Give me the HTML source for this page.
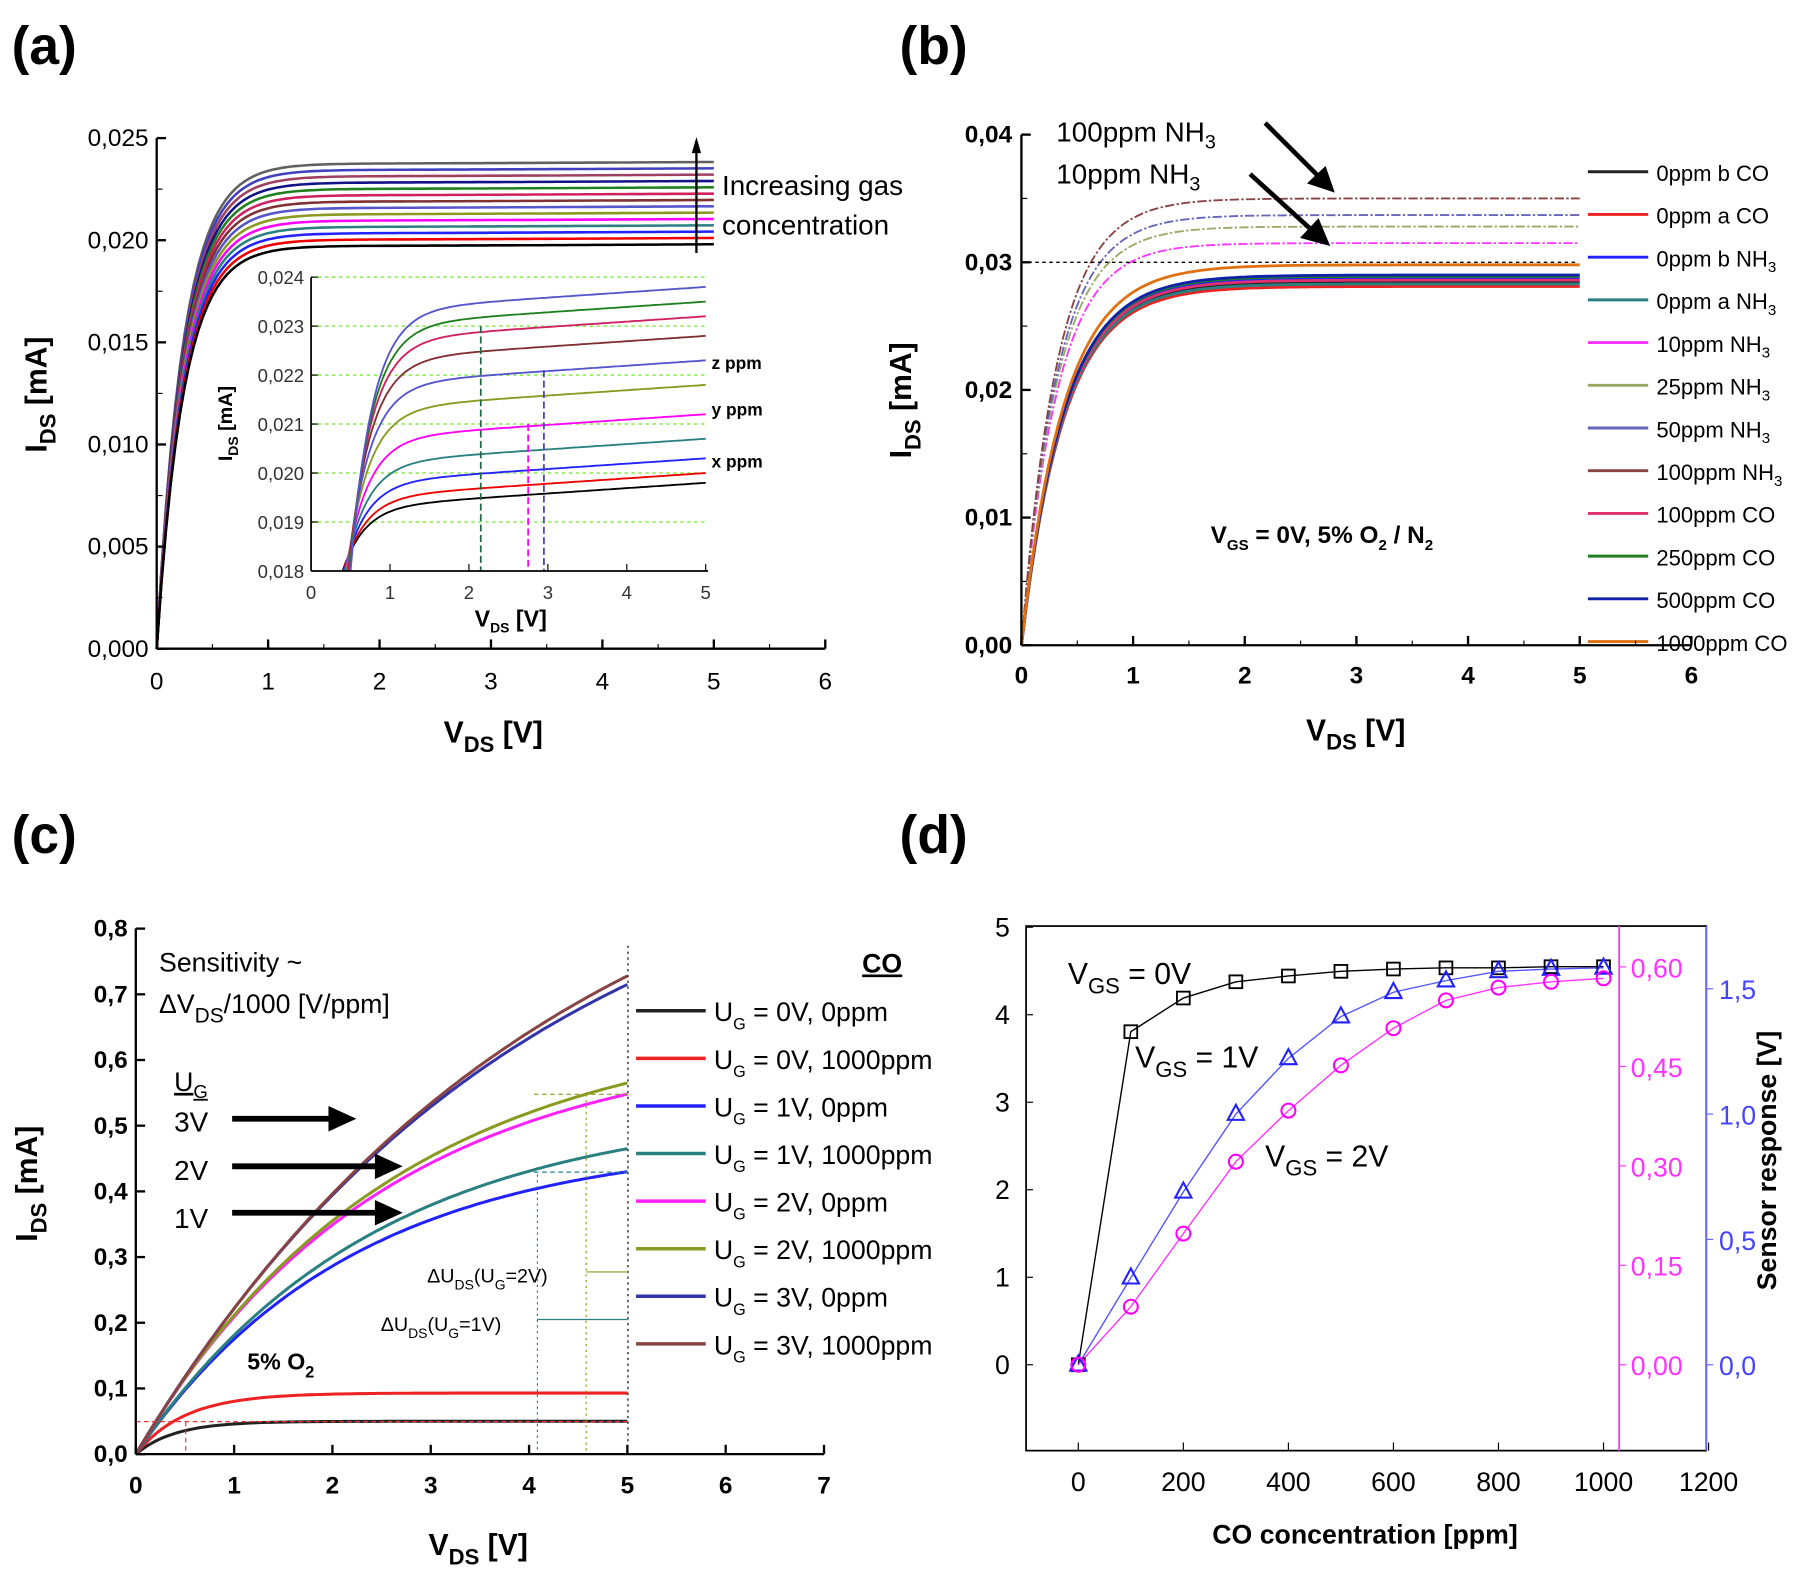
<!DOCTYPE html>
<html><head><meta charset="utf-8"><style>
html,body{margin:0;padding:0;background:#fff}
svg{display:block}
text{font-family:"Liberation Sans",Arial,sans-serif}
</style></head><body>
<svg id="s" width="1820" height="1569" viewBox="0 0 1568 1352" preserveAspectRatio="none" xmlns="http://www.w3.org/2000/svg">
<rect width="1568" height="1352" fill="#fff"/>
<g font-weight="bold" font-size="46">
<text x="10" y="55">(a)</text><text x="775" y="55">(b)</text>
<text x="10" y="735">(c)</text><text x="775" y="735">(d)</text>
</g>
<g id="a"></g><g id="b"></g><g id="c"></g><g id="d"></g>
</svg>
<script>
const NS="http://www.w3.org/2000/svg";
function el(p,tag,attrs,txt){const e=document.createElementNS(NS,tag);for(const k in attrs)e.setAttribute(k,attrs[k]);if(txt!==undefined)e.innerHTML=txt;document.getElementById(p).appendChild(e);return e;}
function path(p,f,v0,v1,mx,my,attrs){let d="";const n=120;for(let i=0;i<=n;i++){const v=v0+(v1-v0)*i/n;const x=mx(v),y=my(f(v));d+=(i?"L":"M")+x.toFixed(1)+","+y.toFixed(1);}attrs.d=d;attrs.fill="none";return el(p,"path",attrs);}
function line(p,x1,y1,x2,y2,a){a=a||{};a.x1=x1;a.y1=y1;a.x2=x2;a.y2=y2;if(!a.stroke)a.stroke="#000";return el(p,"line",a);}
function txt(p,x,y,s,a){a=a||{};a.x=x;a.y=y;return el(p,"text",a,s);}
// ===== (a)
{const X=v=>135+96*v,Y=i=>559-17600*i;
const cols=["#000","#e00","#22f","#2a8080","#f0f","#8a9a20","#55c","#803030","#d02060","#208020","#118","#a04060","#4040c0","#606060"];
for(let k=13;k>=0;k--){const Is=0.0198+k*0.00031;path("a",v=>Is*(1-Math.exp(-v/0.24))+0.00003*v-0.00015+0.00015*Math.exp(-v),0,5,X,Y,{stroke:cols[k],"stroke-width":2.2});}
line("a",135,119,135,559,{"stroke-width":2});line("a",135,559,711,559,{"stroke-width":2});
for(let i=0;i<=6;i++){line("a",X(i),559,X(i),551,{"stroke-width":2});txt("a",X(i),594,i,{"font-size":21,"text-anchor":"middle"});if(i<6)line("a",X(i+.5),559,X(i+.5),555);}
["0,000","0,005","0,010","0,015","0,020","0,025"].forEach((s,i)=>{const y=559-88*i;line("a",135,y,143,y,{"stroke-width":2});txt("a",128,y+7,s,{"font-size":21,"text-anchor":"end"});if(i<5)line("a",135,y-44,140,y-44);});
txt("a",425,640,"V<tspan font-size='19' dy='8'>DS</tspan><tspan dy='-8'> [V]</tspan>",{"font-size":26,"font-weight":"bold","text-anchor":"middle"});
txt("a",40,340,"I<tspan font-size='19' dy='8'>DS</tspan><tspan dy='-8'> [mA]</tspan>",{"font-size":26,"font-weight":"bold","text-anchor":"middle",transform:"rotate(-90 40 340)"});
line("a",600,218,600,122,{"stroke-width":2});el("a","path",{d:"M596,132 L600,118 L604,132Z"});
txt("a",622,168,"Increasing gas",{"font-size":24});txt("a",622,202,"concentration",{"font-size":24});
el("a","rect",{x:245,y:228,width:370,height:268,fill:"#fff"});
const x2=v=>268+68*v,y2=i=>492-42200*(i-0.018);
for(let k=1;k<=6;k++){const y=y2(0.018+k*0.001);line("a",268,y,610,y,{stroke:"#9e6","stroke-dasharray":"3,3","stroke-width":1.5});}
const ends=[0.0198,0.0200,0.0203,0.0207,0.0212,0.0218,0.0223,0.0228,0.0232,0.0235,0.0238];
const ic=["#000","#e00","#22f","#2a8080","#f0f","#8a9a20","#55c","#803030","#d02060","#208020","#55c"];
ends.forEach((e,k)=>{const D=e-0.0005-0.018;path("a",v=>Math.max(0.018,e-0.0005*(5-v)/4.6-D*Math.exp(-(v-0.4-k*0.01)/0.28)),0.4+k*0.01,5,x2,y2,{stroke:ic[k],"stroke-width":1.6});});
line("a",x2(2.15),y2(0.0230),x2(2.15),492,{stroke:"#264","stroke-dasharray":"6,3","stroke-width":1.5});
line("a",x2(2.75),y2(0.0210),x2(2.75),492,{stroke:"#f0f","stroke-dasharray":"6,3","stroke-width":1.5});
line("a",x2(2.95),y2(0.0221),x2(2.95),492,{stroke:"#44a","stroke-dasharray":"6,3","stroke-width":1.5});
line("a",268,239,268,492,{"stroke-width":1.5});line("a",268,492,610,492,{"stroke-width":1.5});
for(let i=0;i<=5;i++){line("a",x2(i),492,x2(i),486);txt("a",x2(i),516,i,{"font-size":16,"text-anchor":"middle",fill:"#333"});}
["0,018","0,019","0,020","0,021","0,022","0,023","0,024"].forEach((s,i)=>{const y=y2(0.018+i*0.001);line("a",268,y,274,y);txt("a",262,y+6,s,{"font-size":16,"text-anchor":"end",fill:"#333"});});
txt("a",440,540,"V<tspan font-size='12' dy='5'>DS</tspan><tspan dy='-5'> [V]</tspan>",{"font-size":20,"font-weight":"bold","text-anchor":"middle"});
txt("a",200,365,"I<tspan font-size='12' dy='5'>DS</tspan><tspan dy='-5'> [mA]</tspan>",{"font-size":17,"font-weight":"bold","text-anchor":"middle",transform:"rotate(-90 200 365)"});
txt("a",613,318,"z ppm",{"font-size":15,"font-weight":"bold"});txt("a",613,358,"y ppm",{"font-size":15,"font-weight":"bold"});txt("a",613,403,"x ppm",{"font-size":15,"font-weight":"bold"});
}
// ===== (b)
{const X=v=>880+96.2*v,Y=i=>556-11000*i;
const s=[["0ppm b CO","#222",0.0285,0],["0ppm a CO","#e22",0.0281,0],["0ppm b NH<tspan font-size='13' dy='5'>3</tspan>","#22f",0.0288,0],["0ppm a NH<tspan font-size='13' dy='5'>3</tspan>","#2a8080",0.0283,0],["10ppm NH<tspan font-size='13' dy='5'>3</tspan>","#f3f",0.0315,1],["25ppm NH<tspan font-size='13' dy='5'>3</tspan>","#9a6",0.0328,1],["50ppm NH<tspan font-size='13' dy='5'>3</tspan>","#66b",0.0337,1],["100ppm NH<tspan font-size='13' dy='5'>3</tspan>","#844",0.035,1],["100ppm CO","#e03070",0.0286,0],["250ppm CO","#208020",0.0289,0],["500ppm CO","#12a",0.029,0],["1000ppm CO","#e07010",0.0298,0]];
s.forEach((c,k)=>{const tau=c[3]?0.32:0.38;path("b",v=>c[2]*(1-Math.exp(-v/tau)),0,5,X,Y,{stroke:c[1],"stroke-width":c[3]?1.6:2.4,"stroke-dasharray":c[3]?"8,2,2,2":"none"});
const y=148+36.8*k;line("b",1368,y,1420,y,{stroke:c[1],"stroke-width":2.5});txt("b",1427,y+8,c[0],{"font-size":19});});
line("b",880,226,1360,226,{"stroke-dasharray":"3,3","stroke-width":1.2});
line("b",880,116,880,556,{"stroke-width":2});line("b",880,556,1457,556,{"stroke-width":2});
for(let i=0;i<=6;i++){line("b",X(i),556,X(i),548,{"stroke-width":2});txt("b",X(i),589,i,{"font-size":21,"font-weight":"bold","text-anchor":"middle"});if(i<6)line("b",X(i+.5),556,X(i+.5),552);}
["0,00","0,01","0,02","0,03","0,04"].forEach((t,i)=>{const y=556-110*i;line("b",880,y,888,y,{"stroke-width":2});txt("b",872,y+7,t,{"font-size":21,"font-weight":"bold","text-anchor":"end"});if(i<4)line("b",880,y-55,885,y-55);});
txt("b",1168,638,"V<tspan font-size='19' dy='8'>DS</tspan><tspan dy='-8'> [V]</tspan>",{"font-size":26,"font-weight":"bold","text-anchor":"middle"});
txt("b",785,345,"I<tspan font-size='19' dy='8'>DS</tspan><tspan dy='-8'> [mA]</tspan>",{"font-size":26,"font-weight":"bold","text-anchor":"middle",transform:"rotate(-90 785 345)"});
txt("b",1043,468,"V<tspan font-size='13' dy='6'>GS</tspan><tspan dy='-6'> = 0V, 5% O</tspan><tspan font-size='13' dy='6'>2</tspan><tspan dy='-6'> / N</tspan><tspan font-size='13' dy='6'>2</tspan>",{"font-size":21,"font-weight":"bold"});
txt("b",910,122,"100ppm NH<tspan font-size='17' dy='6'>3</tspan>",{"font-size":24});txt("b",910,158,"10ppm NH<tspan font-size='17' dy='6'>3</tspan>",{"font-size":24});
line("b",1090,106,1140,156,{"stroke-width":4});el("b","path",{d:"M1150,166 L1126,158 L1142,143Z"});
line("b",1077,150,1132,200,{"stroke-width":4});el("b","path",{d:"M1146,212 L1120,205 L1136,188Z"});
}
// ===== (c)
{const X=v=>117+84.7*v,Y=i=>1253-566*i;
const F=(m,t)=>v=>m*(1-Math.exp(-v/t))/(1-Math.exp(-5/t));
const cs=[["0V, 0ppm","#222",0.05,0.4],["0V, 1000ppm","#e22",0.093,0.5],["1V, 0ppm","#22f",0.43,2.2],["1V, 1000ppm","#2a8080",0.465,2.4],["2V, 0ppm","#f2f",0.548,2.5],["2V, 1000ppm","#8a9a20",0.565,2.6],["3V, 0ppm","#33a",0.715,4],["3V, 1000ppm","#844",0.728,4.2]];
cs.forEach((c,k)=>{path("c",F(c[2],c[3]),0,5,X,Y,{stroke:c[1],"stroke-width":2.6});const y=871+41*k;line("c",548,y,608,y,{stroke:c[1],"stroke-width":3});txt("c",615,y+9,"U<tspan font-size='14' dy='7'>G</tspan><tspan dy='-7'> = "+c[0]+"</tspan>",{"font-size":23});});
line("c",541,815,541,1253,{"stroke-dasharray":"2,3"});
line("c",117,1225,541,1225,{stroke:"#e33","stroke-dasharray":"4,3"});line("c",160,1225,160,1253,{stroke:"#e33","stroke-dasharray":"4,3"});
line("c",463,1012,463,1253,{stroke:"#2a8080","stroke-dasharray":"2,3"});line("c",505,943,505,1253,{stroke:"#8a9a20","stroke-dasharray":"2,3"});
line("c",460,1010,541,1010,{stroke:"#2a8080","stroke-dasharray":"4,3"});line("c",460,943,541,943,{stroke:"#8a9a20","stroke-dasharray":"4,3"});
line("c",463,1137,541,1137,{stroke:"#2a8080"});line("c",505,1096,541,1096,{stroke:"#8a9a20"});
line("c",117,800,117,1253,{"stroke-width":2});line("c",117,1253,710,1253,{"stroke-width":2});
for(let i=0;i<=7;i++){line("c",X(i),1253,X(i),1245,{"stroke-width":2});txt("c",X(i),1287,i,{"font-size":21,"font-weight":"bold","text-anchor":"middle"});}
for(let i=0;i<=8;i++){const y=1253-56.6*i;line("c",117,y,125,y,{"stroke-width":2});txt("c",110,y+7,"0,"+i,{"font-size":21,"font-weight":"bold","text-anchor":"end"});}
txt("c",412,1340,"V<tspan font-size='19' dy='8'>DS</tspan><tspan dy='-8'> [V]</tspan>",{"font-size":26,"font-weight":"bold","text-anchor":"middle"});
txt("c",32,1020,"I<tspan font-size='19' dy='8'>DS</tspan><tspan dy='-8'> [mA]</tspan>",{"font-size":26,"font-weight":"bold","text-anchor":"middle",transform:"rotate(-90 32 1020)"});
txt("c",137,837,"Sensitivity ~",{"font-size":23});txt("c",137,873,"ΔV<tspan font-size='18' dy='8'>DS</tspan><tspan dy='-8'>/1000 [V/ppm]</tspan>",{"font-size":23});
txt("c",150,940,"U<tspan font-size='16' dy='6'>G</tspan>",{"font-size":23,"text-decoration":"underline"});
txt("c",150,975,"3V",{"font-size":24});txt("c",150,1017,"2V",{"font-size":24});txt("c",150,1058,"1V",{"font-size":24});
[[964,285],[1005,325],[1045,325]].forEach(a=>{line("c",200,a[0],a[1],a[0],{"stroke-width":5});el("c","path",{d:`M${a[1]+22},${a[0]} L${a[1]-2},${a[0]-11} L${a[1]-2},${a[0]+11}Z`});});
txt("c",760,838,"CO",{"font-size":23,"font-weight":"bold","text-anchor":"middle","text-decoration":"underline"});
txt("c",213,1180,"5% O<tspan font-size='14' dy='7'>2</tspan>",{"font-size":20,"font-weight":"bold"});
txt("c",368,1105,"ΔU<tspan font-size='12' dy='6'>DS</tspan><tspan dy='-6'>(U</tspan><tspan font-size='12' dy='6'>G</tspan><tspan dy='-6'>=2V)</tspan>",{"font-size":17});
txt("c",328,1147,"ΔU<tspan font-size='12' dy='6'>DS</tspan><tspan dy='-6'>(U</tspan><tspan font-size='12' dy='6'>G</tspan><tspan dy='-6'>=1V)</tspan>",{"font-size":17});
}
// ===== (d)
{const X=c=>929+0.4525*c;
el("d","rect",{x:884,y:798,width:586,height:452,fill:"none",stroke:"#000","stroke-width":1.5});
line("d",1395,798,1395,1250,{stroke:"#f3f","stroke-width":1.5});line("d",1470,798,1470,1250,{stroke:"#66f","stroke-width":1.5});
for(let i=0;i<=6;i++){const c=i*200;line("d",X(c),1250,X(c),1243);txt("d",X(c),1285,c,{"font-size":23,"text-anchor":"middle"});}
for(let i=0;i<=5;i++){const y=1176-75.4*i;line("d",884,y,890,y);txt("d",870,y+8,i,{"font-size":23,"text-anchor":"end"});}
["0,00","0,15","0,30","0,45","0,60"].forEach((t,i)=>{const y=1176-85.7*i;line("d",1395,y,1401,y,{stroke:"#f3f"});txt("d",1405,y+9,t,{"font-size":23,fill:"#f3f"});});
["0,0","0,5","1,0","1,5"].forEach((t,i)=>{const y=1176-108*i;line("d",1470,y,1476,y,{stroke:"#66f"});txt("d",1481,y+9,t,{"font-size":23,fill:"#44f"});});
const cx=[0,100,200,300,400,500,600,700,800,900,1000];
const bk=[1176,889,860,846,841,837,835,834,834,833,833];
const bl=[1176,1101,1027,960,912,876,855,845,837,835,834];
const mg=[1176,1126,1063,1001,957,918,886,862,851,846,843];
const pl=(a,col)=>el("d","polyline",{points:cx.map((c,i)=>X(c)+","+a[i]).join(" "),fill:"none",stroke:col,"stroke-width":1.2});
pl(bk,"#000");pl(bl,"#55f");pl(mg,"#f3f");
cx.forEach((c,i)=>{const x=X(c);
el("d","rect",{x:x-5.5,y:bk[i]-5.5,width:11,height:11,fill:"none",stroke:"#000","stroke-width":1.6});
el("d","path",{d:`M${x},${bl[i]-8}L${x+7},${bl[i]+5}L${x-7},${bl[i]+5}Z`,fill:"none",stroke:"#22f","stroke-width":1.8});
el("d","circle",{cx:x,cy:mg[i],r:6,fill:"none",stroke:"#f0f","stroke-width":1.8});});
txt("d",920,848,"V<tspan font-size='19' dy='8'>GS</tspan><tspan dy='-8'> = 0V</tspan>",{"font-size":26});
txt("d",978,920,"V<tspan font-size='19' dy='8'>GS</tspan><tspan dy='-8'> = 1V</tspan>",{"font-size":26});
txt("d",1090,1005,"V<tspan font-size='19' dy='8'>GS</tspan><tspan dy='-8'> = 2V</tspan>",{"font-size":26});
txt("d",1176,1330,"CO concentration [ppm]",{"font-size":23,"font-weight":"bold","text-anchor":"middle"});
txt("d",1530,1000,"Sensor response [V]",{"font-size":23,"font-weight":"bold","text-anchor":"middle",transform:"rotate(-90 1530 1000)"});
}
</script>
</body></html>
